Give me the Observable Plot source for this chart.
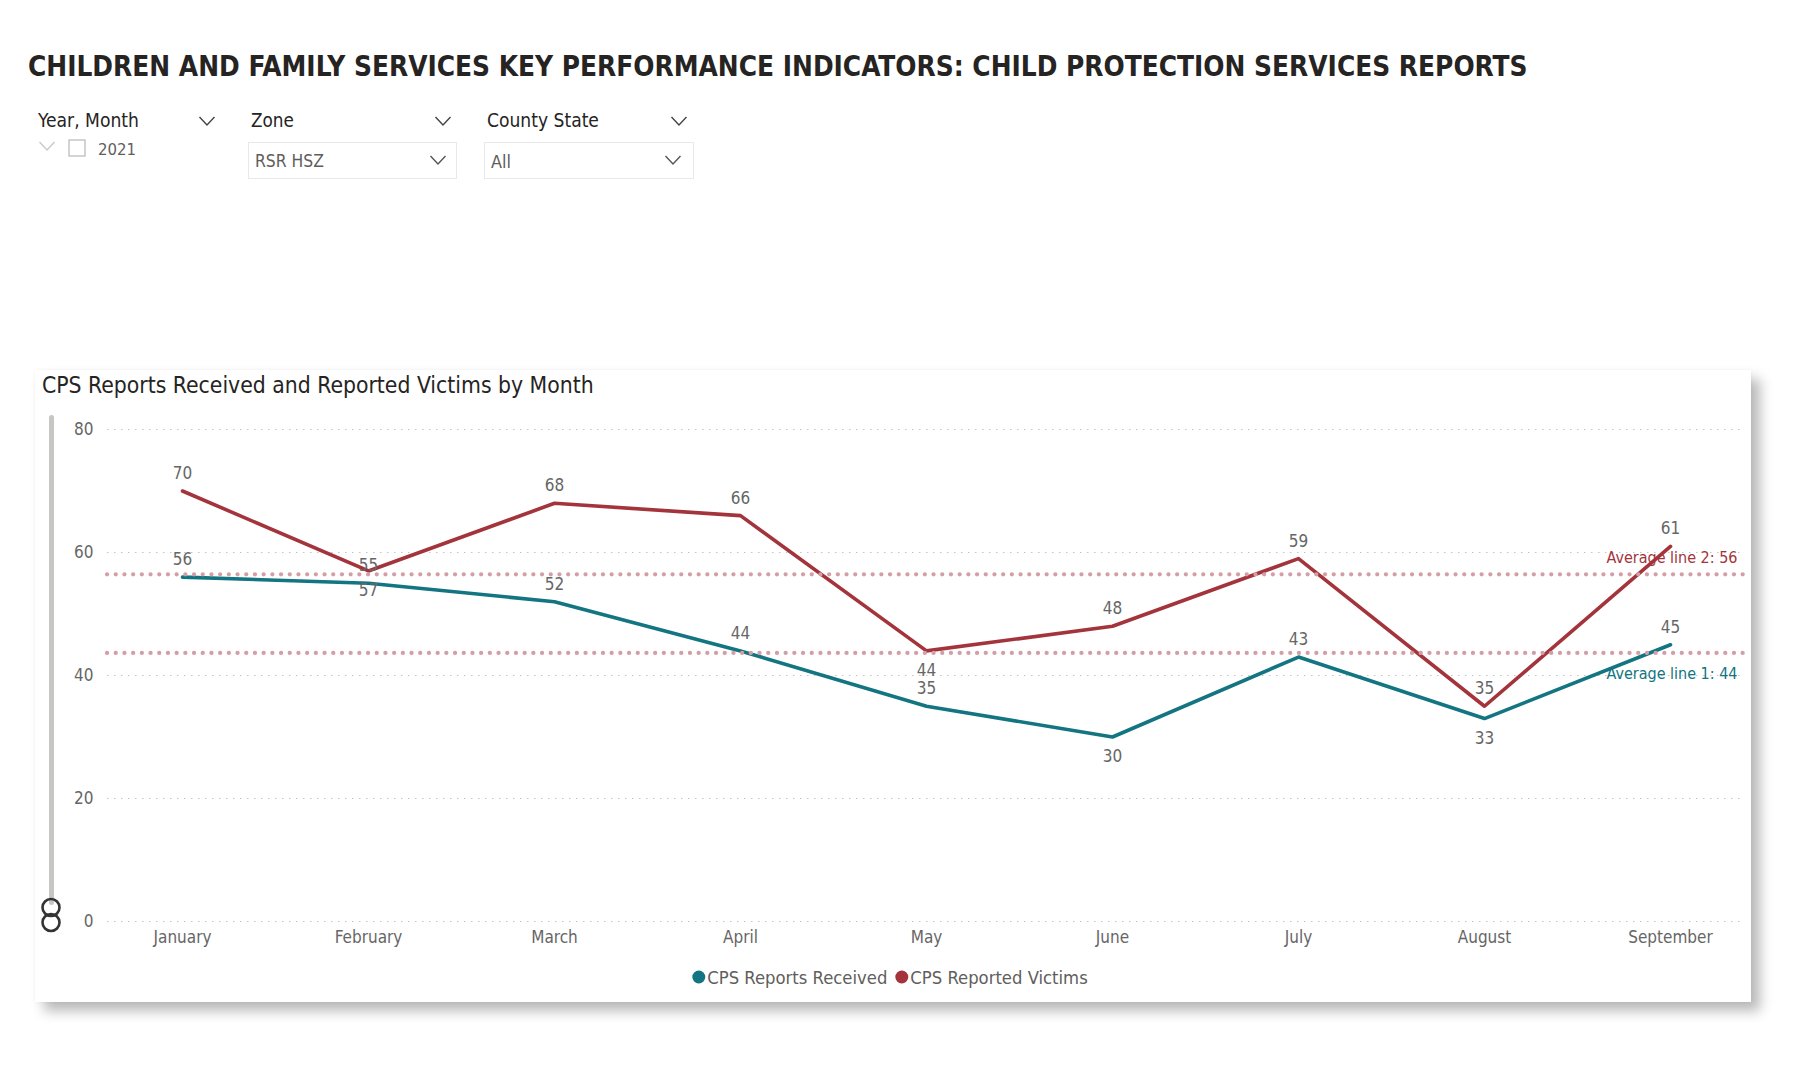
<!DOCTYPE html>
<html>
<head>
<meta charset="utf-8">
<script src="https://cdn.jsdelivr.net/npm/d3@7"></script>
<script src="https://cdn.jsdelivr.net/npm/@observablehq/plot@0.6"></script>
<style>
  html, body { margin: 0; padding: 0; background: #ffffff; }
  body { width: 1800px; height: 1067px; position: relative; overflow: hidden; }
  .abs { position: absolute; white-space: nowrap; line-height: 1; transform: translateY(-50%); }
  .din { font-family: "Liberation Sans Narrow", "DejaVu Sans Condensed", "Roboto", sans-serif; }
  .title { font-weight: bold; color: #252423; font-size: 31px; }
  .hdr { color: #252423; font-size: 19px; }
  .val { color: #605e5c; font-size: 18px; }
  .box { position: absolute; border: 1px solid #e8e8e8; background: #fff; }
  .card { position: absolute; left: 35px; top: 370px; width: 1716px; height: 632px; background: #fff;
          box-shadow: 9px 9px 12px rgba(0,0,0,0.28), 0 0 3px rgba(0,0,0,0.05); }
  .legend { position: absolute; top: 977px; left: 890px; transform: translate(-50%, -50%); display: flex; align-items: center;
            font-family: "DejaVu Sans Condensed", sans-serif; font-size: 18.3px; color: #605e5c; white-space: nowrap; }
  .legend .item { display: flex; align-items: center; margin: 0 4px; }
  .legend .dot { width: 13px; height: 13px; border-radius: 50%; margin-right: 2px; }
  svg.deco { position: absolute; left: 0; top: 0; overflow: visible; }
</style>
</head>
<body>
<script>
// ---------------- data ----------------
const months = ["January", "February", "March", "April", "May", "June", "July", "August", "September"];
const seriesNames = ["CPS Reports Received", "CPS Reported Victims"];
const seriesColors = ["#127581", "#a4343b"];
const received = [56, 55, 52, 44, 35, 30, 43, 33, 45];
const victims  = [70, 57, 68, 66, 44, 48, 59, 35, 61];
// where Power BI put each data label relative to its point
const receivedLabelPos = ["above", "above", "above", "above", "above", "below", "above", "below", "above"];
const victimsLabelPos  = ["above", "below", "above", "above", "below", "above", "above", "above", "above"];
const yTicks = [0, 20, 40, 60, 80];
const avgNames = ["Average line 1", "Average line 2"];

const pageTitle = "CHILDREN AND FAMILY SERVICES KEY PERFORMANCE INDICATORS: CHILD PROTECTION SERVICES REPORTS";
const chartTitle = "CPS Reports Received and Reported Victims by Month";
const filterHeaders = ["Year, Month", "Zone", "County State"];
const filterValues = ["2021", "RSR HSZ", "All"];

// ---------------- helpers ----------------
function addText(text, cls, x, y, fitW) {
  const el = document.createElement("div");
  el.className = "abs " + cls;
  el.textContent = text;
  el.style.left = x + "px";
  el.style.top = y + "px";
  document.body.appendChild(el);
  if (fitW) {
    const w = el.getBoundingClientRect().width;
    const fs = parseFloat(getComputedStyle(el).fontSize);
    el.style.fontSize = (fs * fitW / w) + "px";
  }
  return el;
}
function addBox(x, y, w, h) {
  const el = document.createElement("div");
  el.className = "box";
  Object.assign(el.style, {left: x + "px", top: y + "px", width: w + "px", height: h + "px"});
  document.body.appendChild(el);
}

// ---------------- header & filters ----------------
addText(pageTitle, "din title", 28, 67, 1500);
addText(filterHeaders[0], "din hdr", 38, 121, 101);
addText(filterHeaders[1], "din hdr", 251, 121, 43);
addText(filterHeaders[2], "din hdr", 487, 121, 112);
addBox(248, 142, 207, 35);
addBox(484, 142, 208, 35);
addText(filterValues[0], "din val", 98, 150, 38);
addText(filterValues[1], "din val", 255, 162, 69);
addText(filterValues[2], "din val", 491, 162, 20);

// card
const card = document.createElement("div");
card.className = "card";
document.body.appendChild(card);
addText(chartTitle, "din hdr", 42, 385, 552);

// decorative svg: chevrons, checkbox, zoom slider
const NS = "http://www.w3.org/2000/svg";
const deco = document.createElementNS(NS, "svg");
deco.setAttribute("class", "deco");
deco.setAttribute("width", 1800);
deco.setAttribute("height", 1067);
function chevron(cx, cy, w, h, color, sw) {
  const p = document.createElementNS(NS, "polyline");
  p.setAttribute("points", `${cx - w/2},${cy - h/2} ${cx},${cy + h/2} ${cx + w/2},${cy - h/2}`);
  p.setAttribute("fill", "none");
  p.setAttribute("stroke", color);
  p.setAttribute("stroke-width", sw);
  deco.appendChild(p);
}
[207, 443, 679].forEach(x => chevron(x, 121, 15, 8, "#444", 1.4));
[438, 673].forEach(x => chevron(x, 160, 15, 8, "#555", 1.4));
chevron(47, 146, 15, 8, "#c8c8c8", 1.3);
const cb = document.createElementNS(NS, "rect");
Object.entries({x: 69, y: 140, width: 16, height: 16, fill: "#fff", stroke: "#b8b8b8", "stroke-width": 1.2}).forEach(([k, v]) => cb.setAttribute(k, v));
deco.appendChild(cb);
const bar = document.createElementNS(NS, "rect");
Object.entries({x: 49, y: 415, width: 5, height: 490, rx: 2.5, fill: "#c8c6c4"}).forEach(([k, v]) => bar.setAttribute(k, v));
deco.appendChild(bar);
[907.5, 922.5].forEach(cy => {
  const c = document.createElementNS(NS, "circle");
  Object.entries({cx: 51, cy, r: 8.5, fill: "none", stroke: "#333", "stroke-width": 2.6}).forEach(([k, v]) => c.setAttribute(k, v));
  deco.appendChild(c);
});
document.body.appendChild(deco);

// ---------------- chart ----------------
const rows = months.flatMap((m, i) => [
  {month: m, series: seriesNames[0], value: received[i], pos: receivedLabelPos[i]},
  {month: m, series: seriesNames[1], value: victims[i], pos: victimsLabelPos[i]}
]);
const avgs = [
  {series: seriesNames[0], value: d3.mean(received), label: `${avgNames[0]}: ${Math.round(d3.mean(received))}`, pos: "below"},
  {series: seriesNames[1], value: d3.mean(victims), label: `${avgNames[1]}: ${Math.round(d3.mean(victims))}`, pos: "above"}
];

const labelFont = '"Liberation Sans Narrow", "DejaVu Sans Condensed", sans-serif';
const chart = Plot.plot({
  width: 1716,
  height: 561,
  marginTop: 29,
  marginBottom: 40,
  marginLeft: 72,
  marginRight: 6,
  style: {fontFamily: labelFont, fontSize: "17px", color: "#666666", background: "transparent", overflow: "visible"},
  x: {type: "point", domain: months, padding: 0.39, label: null, tickSize: 0, tickPadding: 9},
  y: {domain: [0, 80], ticks: yTicks, label: null, tickSize: 0, tickPadding: 14},
  color: {domain: seriesNames, range: seriesColors},
  marks: [
    Plot.gridY(yTicks, {stroke: "#c4c4c4", strokeOpacity: 1, strokeWidth: 1.2, strokeDasharray: "1.5,5.5"}),
    Plot.line(rows, {x: "month", y: "value", z: "series", stroke: "series", strokeWidth: 3.6}),
    Plot.ruleY(avgs, {y: "value", stroke: "#d49ea7", strokeWidth: 4.2, strokeDasharray: "0.1,8.6", strokeLinecap: "round"}),
    Plot.text(rows.filter(d => d.pos === "above"), {x: "month", y: "value", text: d => String(d.value), dy: -17.5, fill: "#666666", fontSize: 17}),
    Plot.text(rows.filter(d => d.pos === "below"), {x: "month", y: "value", text: d => String(d.value), dy: 20, fill: "#666666", fontSize: 17}),
    Plot.text(avgs.filter(d => d.pos === "above"), {y: "value", text: "label", frameAnchor: "right", textAnchor: "end", dx: -8, dy: -16, fill: "series", fontSize: 16}),
    Plot.text(avgs.filter(d => d.pos === "below"), {y: "value", text: "label", frameAnchor: "right", textAnchor: "end", dx: -8, dy: 21, fill: "series", fontSize: 16})
  ]
});
chart.style.position = "absolute";
chart.style.left = "35px";
chart.style.top = "400px";
document.body.appendChild(chart);

// legend
const legend = document.createElement("div");
legend.className = "legend";
seriesNames.forEach((name, i) => {
  const item = document.createElement("div");
  item.className = "item";
  const dot = document.createElement("span");
  dot.className = "dot";
  dot.style.background = seriesColors[i];
  const lab = document.createElement("span");
  lab.textContent = name;
  item.appendChild(dot);
  item.appendChild(lab);
  legend.appendChild(item);
});
document.body.appendChild(legend);
</script>
</body>
</html>
